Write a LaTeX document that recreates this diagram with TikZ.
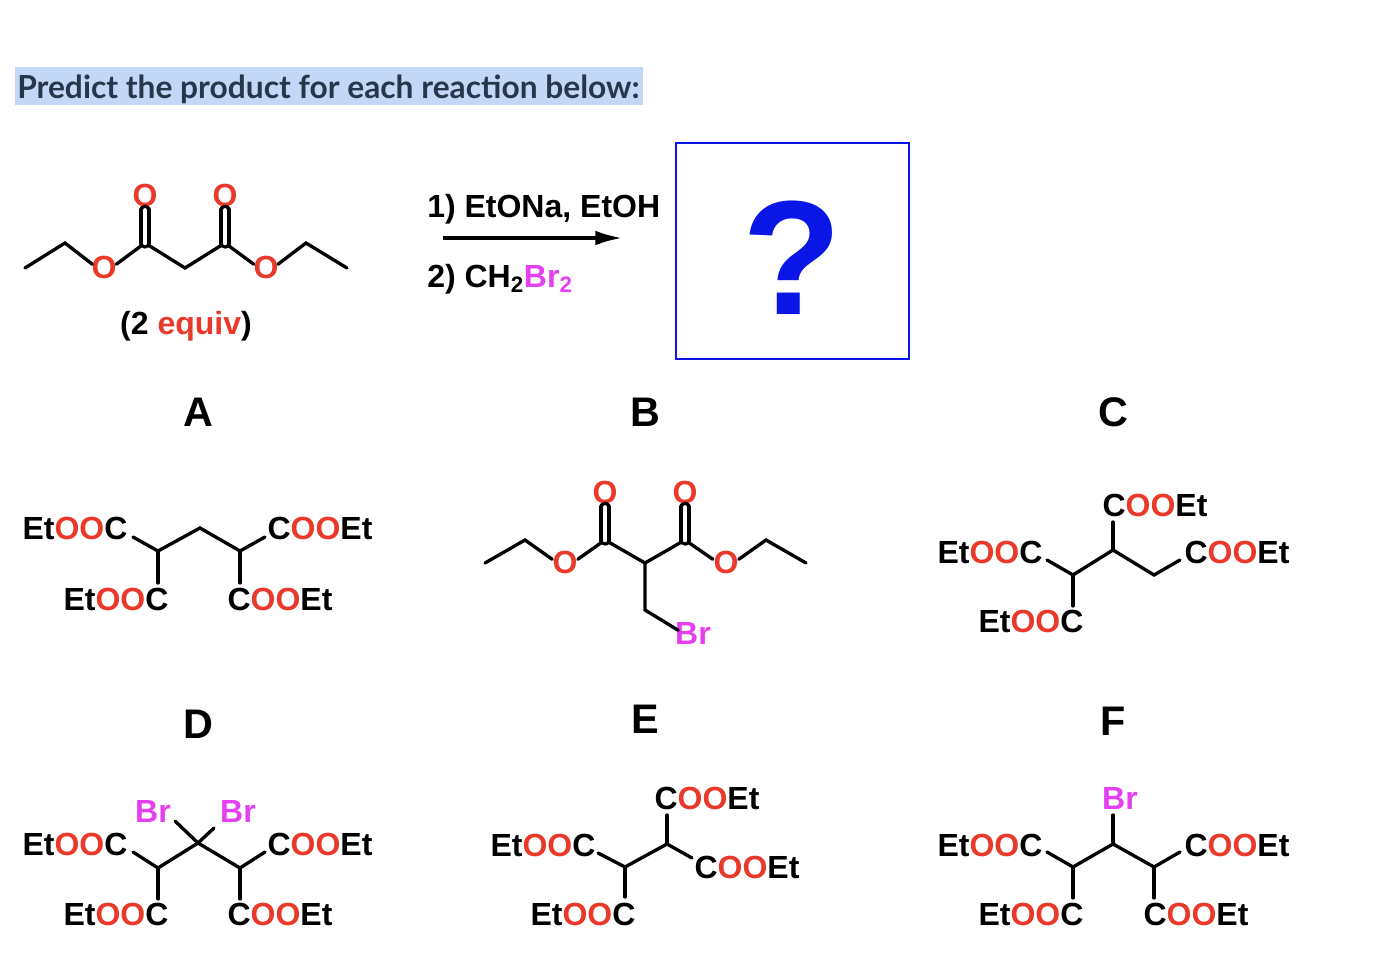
\documentclass[tikz,border=0pt]{standalone}
\usepackage{fontspec}
\setmainfont{Liberation Sans}
\newfontfamily\latofont{Lato}
\usetikzlibrary{arrows.meta}
\definecolor{ored}{HTML}{E8392B}
\definecolor{brm}{HTML}{E43FF0}
\definecolor{hl}{HTML}{C3D8F7}
\definecolor{qb}{HTML}{0A16E6}
\definecolor{tt}{HTML}{27364A}
\newcommand\eoc{Et\textcolor{ored}{OO}C}
\newcommand\coe{C\textcolor{ored}{OO}Et}
\begin{document}
\begin{tikzpicture}[x=0.75pt,y=-0.75pt,
  bond/.style={line width=2.5pt,line cap=round},
  lbl/.style={font=\fontsize{24}{26}\selectfont\bfseries,inner sep=0pt,text height=0.72em,text depth=0pt,anchor=center,yshift=-4pt},
  atomO/.style={lbl,text=ored,inner sep=3pt},
  atomBr/.style={lbl,text=brm},
  big/.style={font=\fontsize{31}{34}\selectfont\bfseries,inner sep=0pt}]
\useasboundingbox (0,0) rectangle (1380,974);
% title
\node[fill=hl,inner sep=0pt,minimum width=471pt,minimum height=28pt,anchor=north west] (hlbox) at (15,67) {};
\node[font=\latofont\fontsize{23.8}{26}\selectfont\bfseries,text=tt,anchor=west,inner sep=0pt,yshift=-2pt] (title) at (17,87) {Predict the product for each reaction below:};
% malonate
\coordinate (m1) at (25,268); \coordinate (m2) at (65,243);
\node[atomO] (mo1) at (104,268) {O};
\coordinate (m3) at (145,243); \node[atomO] (mo2) at (145,196) {O};
\coordinate (m4) at (185,268);
\coordinate (m5) at (225,243); \node[atomO] (mo3) at (225,196) {O};
\node[atomO] (mo4) at (266,268) {O};
\coordinate (m6) at (306,243); \coordinate (m7) at (347,268);
\draw[bond] (m1)--(m2)--(mo1)--(m3)--(m4)--(m5)--(mo4)--(m6)--(m7);
\draw[bond,double,double distance=3.5pt] (m3)--(mo2);
\draw[bond,double,double distance=3.5pt] (m5)--(mo3);
\node[lbl] (equiv) at (186,324) {(2 \textcolor{ored}{equiv})};
% reagents
\node[lbl,anchor=west] (r1) at (427,207) {1) EtONa, EtOH};
\node[lbl,anchor=west] (r2) at (427,277) {2) CH\textsubscript{2}\textcolor{brm}{Br\textsubscript{2}}};
\coordinate (a1) at (443,238); \coordinate (a2) at (622,238);
\draw[line width=2.4pt,-{Latex[length=20pt,width=11pt]}] (a1)--(a2);
\node[draw=qb,line width=1.2pt,minimum width=175pt,minimum height=162pt,inner sep=0pt,anchor=north west] (qbox) at (675,142) {};
\node[font=\fontsize{122}{122}\selectfont\bfseries,text=qb,inner sep=0pt] (q) at (792,258) {?};
% letters
\node[big] (LA) at (198,412) {A};
\node[big] (LB) at (645,412) {B};
\node[big] (LC) at (1113,412) {C};
\node[big] (LD) at (198,724) {D};
\node[big] (LE) at (645,719) {E};
\node[big] (LF) at (1113,721) {F};
% A
\node[lbl] (A1) at (75,529) {\eoc};
\node[lbl] (A2) at (116,600) {\eoc};
\node[lbl] (A3) at (320,529) {\coe};
\node[lbl] (A4) at (280,600) {\coe};
\coordinate (ae1) at (133,537); \coordinate (ac1) at (158,551); \coordinate (ac2) at (200,528);
\coordinate (ac3) at (240,551); \coordinate (ae2) at (265,537);
\coordinate (ae3) at (158,583); \coordinate (ae4) at (240,583);
\draw[bond] (ae1)--(ac1)--(ac2)--(ac3)--(ae2);
\draw[bond] (ac1)--(ae3); \draw[bond] (ac3)--(ae4);
% B
\coordinate (b1) at (485,563); \coordinate (b2) at (525,540);
\node[atomO] (bo1) at (565,563) {O};
\coordinate (b3) at (605,540); \node[atomO] (bo2) at (605,493) {O};
\coordinate (b4) at (645,563);
\coordinate (b5) at (685,540); \node[atomO] (bo3) at (685,493) {O};
\node[atomO] (bo4) at (726,563) {O};
\coordinate (b6) at (766,540); \coordinate (b7) at (806,563);
\coordinate (b8) at (645,610);
\node[atomBr,inner sep=3pt] (bbr) at (693,634) {Br};
\draw[bond] (b1)--(b2)--(bo1)--(b3)--(b4)--(b5)--(bo4)--(b6)--(b7);
\draw[bond,double,double distance=3.5pt] (b3)--(bo2);
\draw[bond,double,double distance=3.5pt] (b5)--(bo3);
\draw[bond] (b4)--(b8)--(bbr);
% C
\node[lbl] (C1) at (990,553) {\eoc};
\node[lbl] (C2) at (1031,622) {\eoc};
\node[lbl] (C3) at (1155,506) {\coe};
\node[lbl] (C4) at (1237,553) {\coe};
\coordinate (ce1) at (1047,560); \coordinate (cc1) at (1073,575); \coordinate (cc2) at (1113,550);
\coordinate (cc3) at (1154,575); \coordinate (ce2) at (1180,560);
\coordinate (ce3) at (1073,606); \coordinate (ce4) at (1113,522);
\draw[bond] (ce1)--(cc1)--(cc2)--(cc3)--(ce2);
\draw[bond] (cc1)--(ce3); \draw[bond] (cc2)--(ce4);
% D
\node[lbl] (D1) at (75,845) {\eoc};
\node[lbl] (D2) at (116,915) {\eoc};
\node[lbl] (D3) at (320,845) {\coe};
\node[lbl] (D4) at (280,915) {\coe};
\node[atomBr] (D5) at (153,812) {Br};
\node[atomBr] (D6) at (238,812) {Br};
\coordinate (de1) at (133,852); \coordinate (dc1) at (158,868); \coordinate (dc2) at (198,843);
\coordinate (dc3) at (240,868); \coordinate (de2) at (265,852);
\coordinate (de3) at (158,899); \coordinate (de4) at (240,899);
\coordinate (db1) at (175,821); \coordinate (db2) at (214,828);
\draw[bond] (de1)--(dc1)--(dc2)--(dc3)--(de2);
\draw[bond] (dc1)--(de3); \draw[bond] (dc3)--(de4);
\draw[bond] (dc2)--(db1); \draw[bond] (dc2)--(db2);
% E
\node[lbl] (E1) at (543,846) {\eoc};
\node[lbl] (E2) at (583,915) {\eoc};
\node[lbl] (E3) at (707,799) {\coe};
\node[lbl] (E4) at (747,868) {\coe};
\coordinate (ee1) at (598,853); \coordinate (ec1) at (625,867); \coordinate (ec2) at (667,844);
\coordinate (ee2) at (692,858); \coordinate (ee3) at (625,897); \coordinate (ee4) at (667,815);
\draw[bond] (ee1)--(ec1)--(ec2)--(ee2);
\draw[bond] (ec1)--(ee3); \draw[bond] (ec2)--(ee4);
% F
\node[lbl] (F1) at (990,846) {\eoc};
\node[lbl] (F2) at (1031,915) {\eoc};
\node[lbl] (F3) at (1237,846) {\coe};
\node[lbl] (F4) at (1196,915) {\coe};
\node[atomBr] (F5) at (1120,799) {Br};
\coordinate (fe1) at (1047,852); \coordinate (fc1) at (1073,867); \coordinate (fc2) at (1113,844);
\coordinate (fc3) at (1154,867); \coordinate (fe2) at (1180,852);
\coordinate (fe3) at (1073,898); \coordinate (fe4) at (1154,898); \coordinate (fe5) at (1113,815);
\draw[bond] (fe1)--(fc1)--(fc2)--(fc3)--(fe2);
\draw[bond] (fc1)--(fe3); \draw[bond] (fc3)--(fe4); \draw[bond] (fc2)--(fe5);
\end{tikzpicture}
\end{document}
